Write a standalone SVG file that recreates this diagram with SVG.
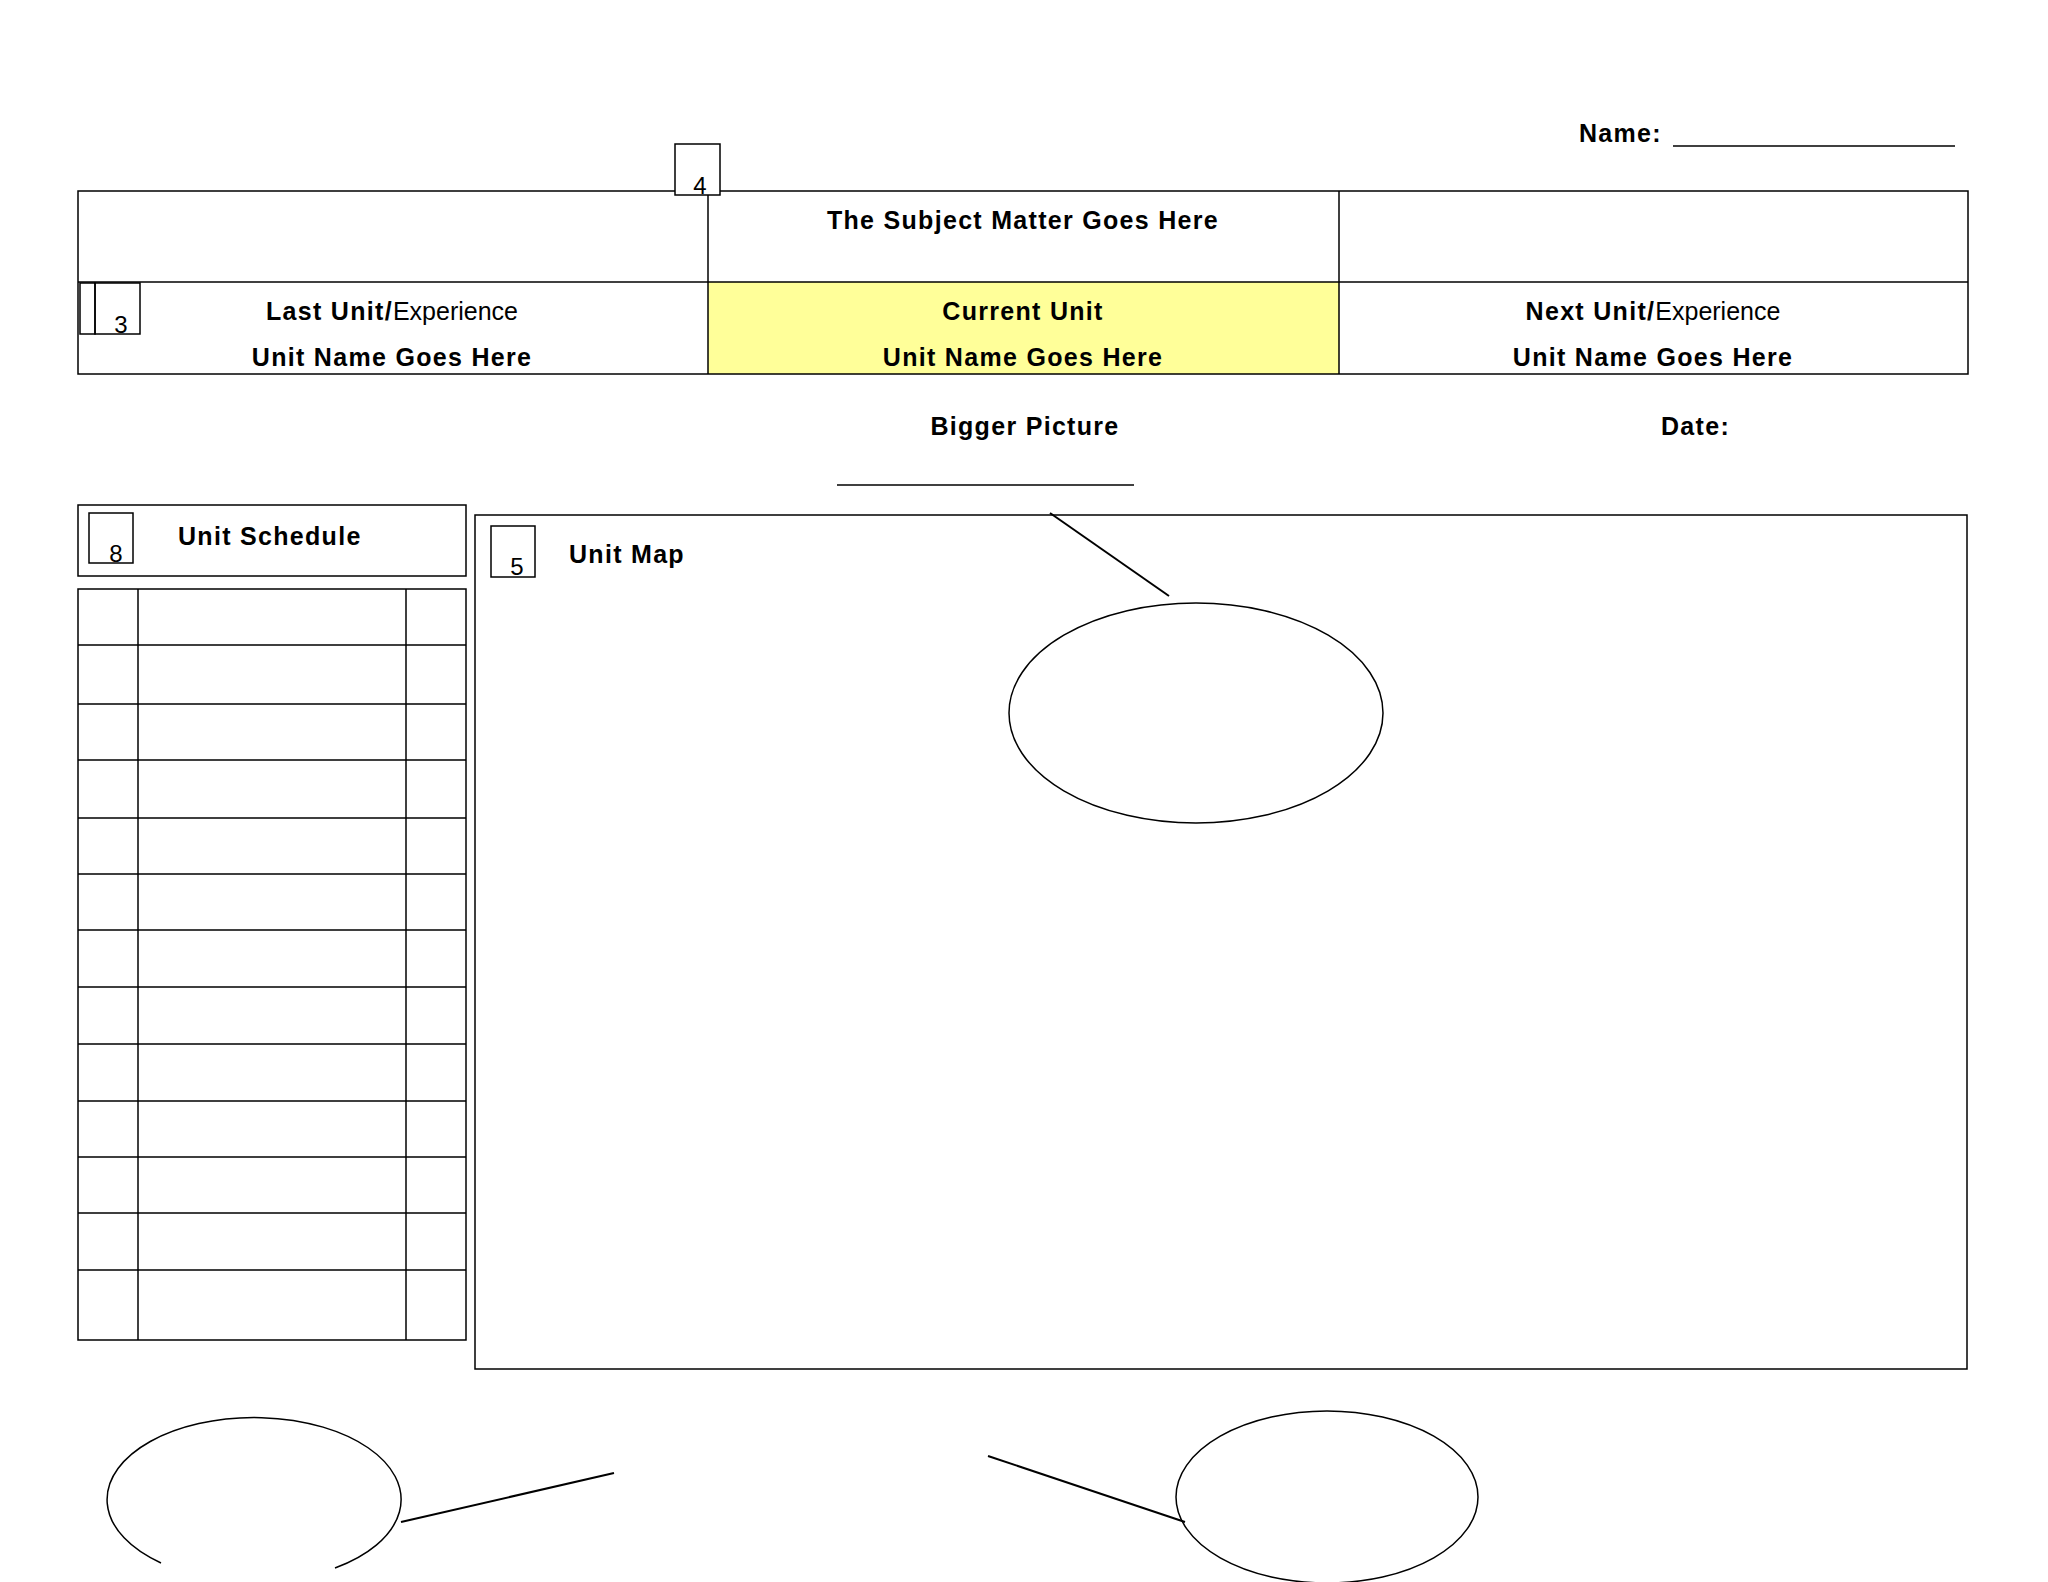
<svg xmlns="http://www.w3.org/2000/svg" width="2048" height="1582" viewBox="0 0 2048 1582">
<style>
.b{fill:none;stroke:#000;stroke-width:1.5}
.w{fill:#fff}
.t{font-family:"Liberation Sans",Arial,sans-serif;font-size:25px;font-weight:bold;letter-spacing:1.3px;fill:#000}
.n{font-weight:normal;letter-spacing:0}
.s{font-family:"Liberation Sans",Arial,sans-serif;font-size:24px;fill:#000}
.c{text-anchor:middle}
.l{stroke:#000;stroke-width:2;fill:none}
</style>
<rect width="2048" height="1582" fill="#fff"/>
<g id="header">
<text class="t" x="1579" y="142">Name:</text>
<line class="b" x1="1673" y1="146" x2="1955" y2="146"/>
</g>
<g id="top-table">
<rect x="708" y="282" width="631" height="92" fill="#ffff99"/>
<rect class="b" x="78" y="191" width="1890" height="183"/>
<line class="b" x1="78" y1="282" x2="1968" y2="282"/>
<line class="b" x1="708" y1="191" x2="708" y2="374"/>
<line class="b" x1="1339" y1="191" x2="1339" y2="374"/>
<text class="t c" x="1023" y="229">The Subject Matter Goes Here</text>
<text class="t c" x="392" y="320">Last Unit/<tspan class="n">Experience</tspan></text>
<text class="t c" x="392" y="366">Unit Name Goes Here</text>
<text class="t c" x="1023" y="320">Current Unit</text>
<text class="t c" x="1023" y="366">Unit Name Goes Here</text>
<text class="t c" x="1653" y="320">Next Unit/<tspan class="n">Experience</tspan></text>
<text class="t c" x="1653" y="366">Unit Name Goes Here</text>
</g>
<g id="box4">
<rect class="b" x="675" y="144" width="45" height="51" style="fill:#fff"/>
<text class="s c" x="700" y="194">4</text>
</g>
<g id="box3">
<rect class="b" x="80" y="283" width="15" height="51"/>
<rect class="b" x="95" y="283" width="45" height="51"/>
<text class="s c" x="121" y="333">3</text>
</g>
<g id="bigger-picture">
<text class="t c" x="1025" y="435">Bigger Picture</text>
<line class="b" x1="837" y1="485" x2="1134" y2="485"/>
<text class="t" x="1661" y="435">Date:</text>
</g>
<g id="unit-schedule">
<rect class="b" x="78" y="505" width="388" height="71"/>
<rect class="b" x="89" y="513" width="44" height="50"/>
<text class="s c" x="116" y="562">8</text>
<text class="t" x="178" y="545">Unit Schedule</text>
<rect class="b" x="78" y="589" width="388" height="751"/>
<line class="b" x1="138" y1="589" x2="138" y2="1340"/>
<line class="b" x1="406" y1="589" x2="406" y2="1340"/>
<path class="b" d="M78 645H466M78 704H466M78 760H466M78 818H466M78 874H466M78 930H466M78 987H466M78 1044H466M78 1101H466M78 1157H466M78 1213H466M78 1270H466"/>
</g>
<g id="unit-map">
<rect class="b" x="475" y="515" width="1492" height="854" stroke-width="2"/>
<rect class="b" x="491" y="526" width="44" height="51"/>
<text class="s c" x="517" y="575">5</text>
<text class="t" x="569" y="563">Unit Map</text>
</g>
<g id="ellipse-top"><ellipse class="b" cx="1196" cy="713" rx="187" ry="110"/></g>
<g id="ellipse-left"><path class="b" d="M161 1563 A147 82 0 1 1 335 1568"/></g>
<g id="ellipse-right"><ellipse class="b" cx="1327" cy="1497" rx="151" ry="86"/></g>
<g id="connectors">
<line class="l" x1="1050" y1="513" x2="1169" y2="596" stroke-width="3"/>
<line class="l" x1="401" y1="1522" x2="614" y2="1473"/>
<line class="l" x1="988" y1="1456" x2="1185" y2="1522"/>
</g>
</svg>
